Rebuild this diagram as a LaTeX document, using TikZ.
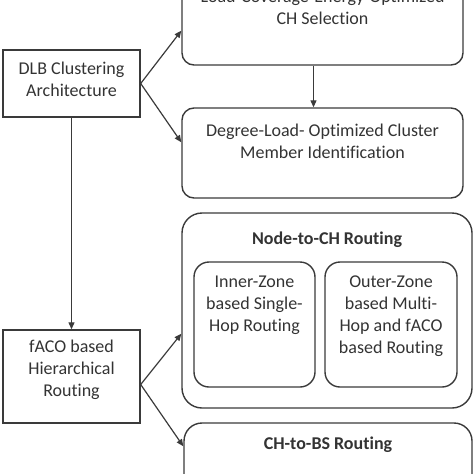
\documentclass[tikz,border=0pt]{standalone}
\usepackage{fontspec}
\setmainfont{Carlito}[Ligatures={NoCommon}]
\usetikzlibrary{arrows.meta}
\definecolor{linec}{HTML}{3A3A3A}
\definecolor{textc}{HTML}{333333}
\begin{document}
\begin{tikzpicture}[x=1pt,y=-1pt,
  rbox/.style={draw=linec, line width=1.4pt, rounded corners=12pt, inner sep=0pt},
  sbox/.style={draw=linec, line width=1.4pt, inner sep=0pt},
  txt/.style={text=textc, align=center, inner sep=0pt, font=\fontsize{18}{22}\selectfont},
  btxt/.style={txt, font=\fontsize{18}{22}\selectfont\bfseries},
  arr/.style={draw=linec, line width=1.2pt, -{Triangle[length=7pt,width=6pt]}}]
\useasboundingbox (0,0) rectangle (474,474);
\clip (0,0) rectangle (474,474);
% boxes
\node[rbox, minimum width=281pt, minimum height=91pt] (sel) at (322.5,19.5) {};
\node[rbox, minimum width=281pt, minimum height=90pt] (mem) at (322.5,153) {};
\node[sbox, minimum width=137pt, minimum height=67pt] (dlb) at (71.5,83.5) {};
\node[sbox, minimum width=137pt, minimum height=93pt] (faco) at (71.5,376.5) {};
\node[rbox, rounded corners=20pt, minimum width=290pt, minimum height=195pt] (nch) at (327,310.5) {};
\node[rbox, rounded corners=15pt, minimum width=121pt, minimum height=125pt] (inner) at (254.5,324.5) {};
\node[rbox, rounded corners=15pt, minimum width=132pt, minimum height=125pt] (outer) at (391,324.5) {};
\node[rbox, rounded corners=18pt, minimum width=288pt, minimum height=100pt] (chbs) at (328,473) {};
% texts
\node[txt] (selt) at (322.5,7) {Load-Coverage-Energy-Optimized\\CH Selection};
\node[txt] (memt) at (322.5,141) {Degree-Load- Optimized Cluster\\Member Identification};
\node[txt] (dlbt) at (71.5,79.5) {DLB Clustering\\Architecture};
\node[txt] (facot) at (71.5,370) {fACO based\\Hierarchical\\Routing};
\node[btxt] (ncht) at (327,240) {Node-to-CH Routing};
\node[txt] (innert) at (254.5,305.5) {Inner-Zone\\based Single-\\Hop Routing};
\node[txt] (outert) at (391,316.5) {Outer-Zone\\based Multi-\\Hop and fACO\\based Routing};
\node[btxt] (chbst) at (328,445) {CH-to-BS Routing};
% connectors
\draw[arr] (dlb.east) -- ([yshift=35pt]sel.south west);
\draw[arr] (dlb.east) -- ([yshift=-35pt]mem.north west);
\draw[arr] ([xshift=-9pt]sel.south) -- ([xshift=-9pt]mem.north);
\draw[arr] (dlb.south) -- (faco.north);
\draw[arr] ([yshift=-8pt]faco.east) -- ([yshift=75pt]nch.south west);
\draw[arr] ([yshift=-8pt]faco.east) -- ([yshift=-24pt]chbs.north west);
\end{tikzpicture}
\end{document}
